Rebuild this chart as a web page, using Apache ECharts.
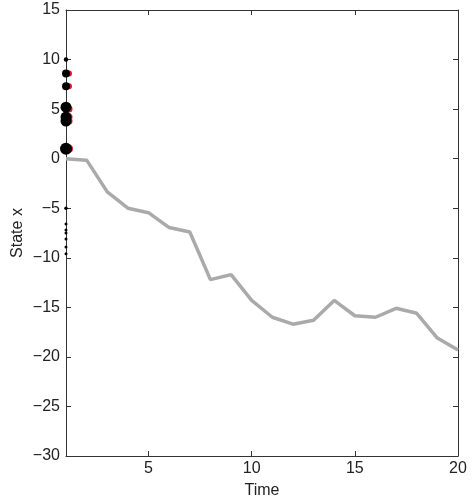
<!DOCTYPE html>
<html>
<head>
<meta charset="utf-8">
<script src="https://cdn.jsdelivr.net/npm/echarts@6/dist/echarts.min.js"></script>
<style>html,body{margin:0;padding:0;background:#fff;}#c{width:474px;height:500px;}</style>
</head>
<body>
<div id="c"></div>
<script>
var times = [1,2,3,4,5,6,7,8,9,10,11,12,13,14,15,16,17,18,19,20];
var trueState = [0,-0.15,-3.35,-5.0,-5.45,-6.95,-7.4,-12.2,-11.7,-14.3,-16.0,-16.7,-16.3,-14.3,-15.85,-16.0,-15.1,-15.6,-18.1,-19.3];
var particleTime = 1;
var particleY = [10, 8.6, 7.3, 5.2, 4.2, 3.8, 1.0, -5.0, -6.6, -7.2, -7.5, -8.1, -8.9, -9.6];
var particleWeight = [4.5, 8, 8, 11, 11, 11, 12, 3.5, 3, 3, 3, 3, 3, 3];
var resampledY = [8.6, 7.3, 5.0, 4.2, 3.8, 1.0];
var resampledWeight = [6, 6, 7, 7, 7, 8];
var xTicks = [5, 10, 15, 20];

var font = 'Liberation Sans, Arial, Helvetica, sans-serif';
var axisCol = '#333';
function fmt(v){ return String(v).replace('-', '\u2212'); }

var chart = echarts.init(document.getElementById('c'));
chart.setOption({
  animation: false,
  backgroundColor: '#fff',
  grid: {left: 66, right: 16, top: 10, bottom: 44, containLabel: false, outerBoundsMode: 'none'},
  xAxis: [{
    type: 'value', min: 1, max: 20,
    name: 'Time', nameLocation: 'middle', nameGap: 27, nameMoveOverlap: false,
    nameTextStyle: {fontFamily: font, fontSize: 16, color: '#222'},
    axisLine: {show: true, onZero: false, lineStyle: {color: axisCol, width: 1}},
    axisTick: {show: true, inside: true, length: 5, customValues: xTicks, lineStyle: {color: axisCol}},
    axisLabel: {show: true, customValues: xTicks, fontFamily: font, fontSize: 16, color: '#222', margin: 5},
    splitLine: {show: false}
  }, {
    type: 'value', min: 1, max: 20, position: 'top',
    axisLine: {show: true, onZero: false, lineStyle: {color: axisCol, width: 1}},
    axisTick: {show: true, inside: true, length: 5, customValues: xTicks, lineStyle: {color: axisCol}},
    axisLabel: {show: false},
    splitLine: {show: false}
  }],
  yAxis: [{
    type: 'value', min: -30, max: 15, interval: 5,
    name: 'State x', nameLocation: 'middle', nameGap: 40, nameRotate: 90, nameMoveOverlap: false,
    nameTextStyle: {fontFamily: font, fontSize: 16, color: '#222'},
    axisLine: {show: true, onZero: false, lineStyle: {color: axisCol, width: 1}},
    axisTick: {show: true, inside: true, length: 5, lineStyle: {color: axisCol}},
    axisLabel: {fontFamily: font, fontSize: 16, color: '#222', margin: 6, formatter: fmt},
    splitLine: {show: false}
  }, {
    type: 'value', min: -30, max: 15, interval: 5, position: 'right',
    axisLine: {show: true, onZero: false, lineStyle: {color: axisCol, width: 1}},
    axisTick: {show: true, inside: true, length: 5, lineStyle: {color: axisCol}},
    axisLabel: {show: false},
    splitLine: {show: false}
  }],
  series: [{
    type: 'line',
    data: times.map(function(t, i){ return [t, trueState[i]]; }),
    showSymbol: false, symbol: 'none',
    lineStyle: {color: '#aaaaaa', width: 3.5},
    z: 2
  }, {
    type: 'scatter',
    data: resampledY.map(function(y, i){ return [particleTime, y, resampledWeight[i]]; }),
    symbolSize: function(d){ return d[2]; },
    symbolOffset: [3, 0],
    itemStyle: {color: '#e8151b', opacity: 1},
    z: 3
  }, {
    type: 'scatter',
    data: particleY.map(function(y, i){ return [particleTime, y, particleWeight[i]]; }),
    symbolSize: function(d){ return d[2]; },
    itemStyle: {color: '#000', opacity: 1},
    z: 4
  }]
});
</script>
</body>
</html>
